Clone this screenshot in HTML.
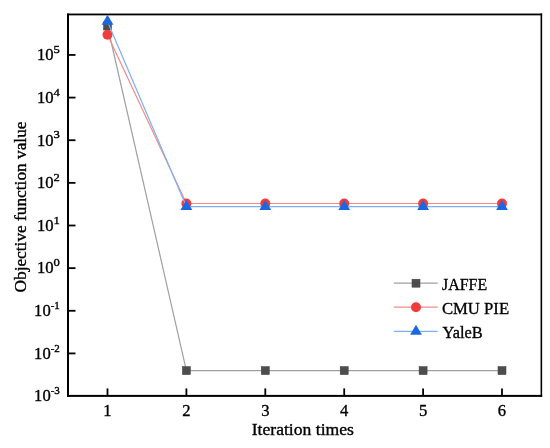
<!DOCTYPE html>
<html><head><meta charset="utf-8"><style>
html,body{margin:0;padding:0;background:#fff;}
svg{display:block;}
.t{font-family:"Liberation Serif", "DejaVu Serif", serif;font-size:16.6px;fill:#000;stroke:#000;stroke-width:0.35px;}
.tt{font-size:17.2px;}
</style></head><body>
<svg width="550" height="448" viewBox="0 0 550 448">
<rect width="550" height="448" fill="#fff"/>
<rect x="67.00" y="13.55" width="475.15" height="1.8" fill="#000"/>
<rect x="540.55" y="13.55" width="1.6" height="383.35" fill="#000"/>
<rect x="67.00" y="13.55" width="2" height="383.35" fill="#000"/>
<rect x="67.00" y="394.90" width="475.15" height="2" fill="#000"/>
<text x="50.7" y="401.36" text-anchor="end" class="t">10</text>
<text x="50.7" y="394.16" class="t" style="font-size:11px">-3</text>
<line x1="68.0" y1="353.42" x2="75.5" y2="353.42" stroke="#000" stroke-width="1.8"/>
<text x="50.7" y="358.72" text-anchor="end" class="t">10</text>
<text x="50.7" y="351.52" class="t" style="font-size:11px">-2</text>
<line x1="68.0" y1="310.78" x2="75.5" y2="310.78" stroke="#000" stroke-width="1.8"/>
<text x="50.7" y="316.08" text-anchor="end" class="t">10</text>
<text x="50.7" y="308.88" class="t" style="font-size:11px">-1</text>
<line x1="68.0" y1="268.14" x2="75.5" y2="268.14" stroke="#000" stroke-width="1.8"/>
<text x="53.5" y="273.44" text-anchor="end" class="t">10</text>
<text x="53.6" y="266.24" textLength="6.3" lengthAdjust="spacingAndGlyphs" class="t" style="font-size:11.2px">0</text>
<line x1="68.0" y1="225.50" x2="75.5" y2="225.50" stroke="#000" stroke-width="1.8"/>
<text x="53.5" y="230.80" text-anchor="end" class="t">10</text>
<text x="53.6" y="223.60" textLength="6.3" lengthAdjust="spacingAndGlyphs" class="t" style="font-size:11.2px">1</text>
<line x1="68.0" y1="182.86" x2="75.5" y2="182.86" stroke="#000" stroke-width="1.8"/>
<text x="53.5" y="188.16" text-anchor="end" class="t">10</text>
<text x="53.6" y="180.96" textLength="6.3" lengthAdjust="spacingAndGlyphs" class="t" style="font-size:11.2px">2</text>
<line x1="68.0" y1="140.22" x2="75.5" y2="140.22" stroke="#000" stroke-width="1.8"/>
<text x="53.5" y="145.52" text-anchor="end" class="t">10</text>
<text x="53.6" y="138.32" textLength="6.3" lengthAdjust="spacingAndGlyphs" class="t" style="font-size:11.2px">3</text>
<line x1="68.0" y1="97.58" x2="75.5" y2="97.58" stroke="#000" stroke-width="1.8"/>
<text x="53.5" y="102.88" text-anchor="end" class="t">10</text>
<text x="53.6" y="95.68" textLength="6.3" lengthAdjust="spacingAndGlyphs" class="t" style="font-size:11.2px">4</text>
<line x1="68.0" y1="54.94" x2="75.5" y2="54.94" stroke="#000" stroke-width="1.8"/>
<text x="53.5" y="60.24" text-anchor="end" class="t">10</text>
<text x="53.6" y="53.04" textLength="6.3" lengthAdjust="spacingAndGlyphs" class="t" style="font-size:11.2px">5</text>
<line x1="107.50" y1="395.9" x2="107.50" y2="388.4" stroke="#000" stroke-width="1.8"/>
<text x="107.50" y="415.6" text-anchor="middle" class="t">1</text>
<line x1="186.40" y1="395.9" x2="186.40" y2="388.4" stroke="#000" stroke-width="1.8"/>
<text x="186.40" y="415.6" text-anchor="middle" class="t">2</text>
<line x1="265.30" y1="395.9" x2="265.30" y2="388.4" stroke="#000" stroke-width="1.8"/>
<text x="265.30" y="415.6" text-anchor="middle" class="t">3</text>
<line x1="344.20" y1="395.9" x2="344.20" y2="388.4" stroke="#000" stroke-width="1.8"/>
<text x="344.20" y="415.6" text-anchor="middle" class="t">4</text>
<line x1="423.10" y1="395.9" x2="423.10" y2="388.4" stroke="#000" stroke-width="1.8"/>
<text x="423.10" y="415.6" text-anchor="middle" class="t">5</text>
<line x1="502.00" y1="395.9" x2="502.00" y2="388.4" stroke="#000" stroke-width="1.8"/>
<text x="502.00" y="415.6" text-anchor="middle" class="t">6</text>
<text x="251.7" y="434.8" textLength="102.3" lengthAdjust="spacingAndGlyphs" class="t tt">Iteration times</text>
<text transform="translate(25.8,292.5) rotate(-90)" x="0" y="0" textLength="171" lengthAdjust="spacingAndGlyphs" class="t tt">Objective function value</text>
<polyline points="107.50,26.00 186.40,370.60 265.30,370.60 344.20,370.60 423.10,370.60 502.00,370.60" fill="none" stroke="#a0a0a0" stroke-width="1.2"/>
<rect x="103.50" y="22.00" width="8.0" height="8.0" fill="#4d4d4d" stroke="#3c3c3c" stroke-width="0.5"/>
<rect x="182.40" y="366.60" width="8.0" height="8.0" fill="#4d4d4d" stroke="#3c3c3c" stroke-width="0.5"/>
<rect x="261.30" y="366.60" width="8.0" height="8.0" fill="#4d4d4d" stroke="#3c3c3c" stroke-width="0.5"/>
<rect x="340.20" y="366.60" width="8.0" height="8.0" fill="#4d4d4d" stroke="#3c3c3c" stroke-width="0.5"/>
<rect x="419.10" y="366.60" width="8.0" height="8.0" fill="#4d4d4d" stroke="#3c3c3c" stroke-width="0.5"/>
<rect x="498.00" y="366.60" width="8.0" height="8.0" fill="#4d4d4d" stroke="#3c3c3c" stroke-width="0.5"/>
<polyline points="107.50,34.80 186.40,203.50 265.30,203.50 344.20,203.50 423.10,203.50 502.00,203.50" fill="none" stroke="#f28a8a" stroke-width="1.2"/>
<circle cx="107.50" cy="34.80" r="5.0" fill="#f03c3c"/>
<circle cx="186.40" cy="203.50" r="5.0" fill="#f03c3c"/>
<circle cx="265.30" cy="203.50" r="5.0" fill="#f03c3c"/>
<circle cx="344.20" cy="203.50" r="5.0" fill="#f03c3c"/>
<circle cx="423.10" cy="203.50" r="5.0" fill="#f03c3c"/>
<circle cx="502.00" cy="203.50" r="5.0" fill="#f03c3c"/>
<polyline points="107.50,21.50 186.40,206.60 265.30,206.60 344.20,206.60 423.10,206.60 502.00,206.60" fill="none" stroke="#7eb0f0" stroke-width="1.2"/>
<polygon points="107.50,14.83 113.40,24.83 101.60,24.83" fill="#1b67e0"/>
<polygon points="186.40,199.93 192.30,209.93 180.50,209.93" fill="#1b67e0"/>
<polygon points="265.30,199.93 271.20,209.93 259.40,209.93" fill="#1b67e0"/>
<polygon points="344.20,199.93 350.10,209.93 338.30,209.93" fill="#1b67e0"/>
<polygon points="423.10,199.93 429.00,209.93 417.20,209.93" fill="#1b67e0"/>
<polygon points="502.00,199.93 507.90,209.93 496.10,209.93" fill="#1b67e0"/>
<line x1="393.9" y1="283.2" x2="437.7" y2="283.2" stroke="#a0a0a0" stroke-width="1.2"/>
<rect x="412.00" y="279.20" width="8.0" height="8.0" fill="#4d4d4d" stroke="#3c3c3c" stroke-width="0.5"/>
<text x="442" y="289.6" textLength="45.1" lengthAdjust="spacingAndGlyphs" class="t tt">JAFFE</text>
<line x1="393.9" y1="307.2" x2="437.7" y2="307.2" stroke="#f28a8a" stroke-width="1.2"/>
<circle cx="416.00" cy="307.20" r="5.0" fill="#f03c3c"/>
<text x="441.9" y="313.6" textLength="67.2" lengthAdjust="spacingAndGlyphs" class="t tt">CMU PIE</text>
<line x1="393.9" y1="331.3" x2="437.7" y2="331.3" stroke="#7eb0f0" stroke-width="1.2"/>
<polygon points="416.00,324.63 421.90,334.63 410.10,334.63" fill="#1b67e0"/>
<text x="442.5" y="337.5" textLength="40.2" lengthAdjust="spacingAndGlyphs" class="t tt">YaleB</text>
</svg>
</body></html>
